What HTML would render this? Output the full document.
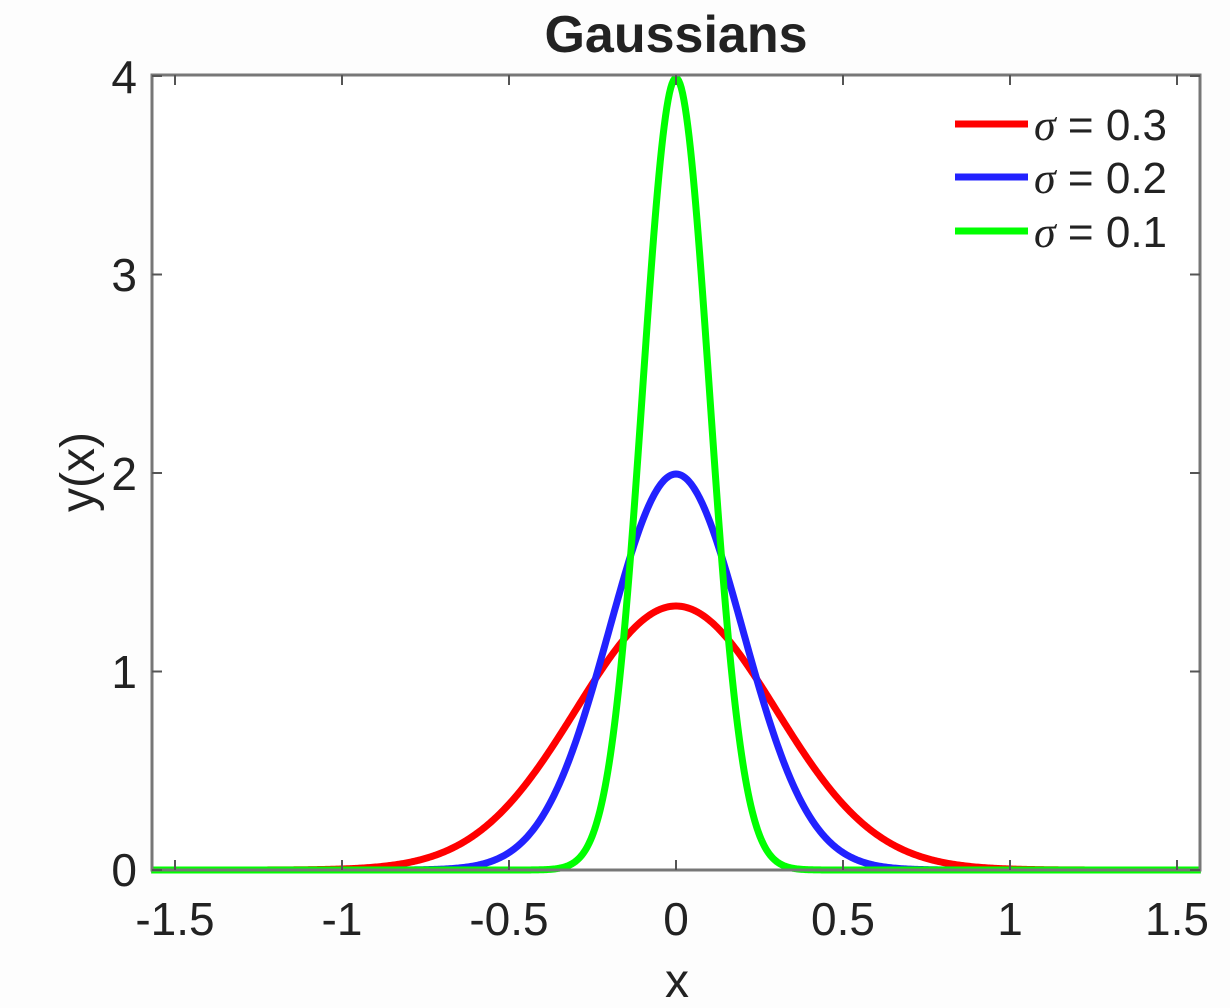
<!DOCTYPE html>
<html><head><meta charset="utf-8"><style>
html,body{margin:0;padding:0;background:#fdfdfd;}
svg{display:block;}
text{font-family:"Liberation Sans",sans-serif;fill:#222;}
</style></head><body>
<svg id="s" width="1230" height="1008" viewBox="0 0 1230 1008" xmlns="http://www.w3.org/2000/svg">
<rect x="0" y="0" width="1230" height="1008" fill="#fdfdfd"/>
<rect x="152" y="75" width="1048" height="795" fill="#fff"/>
<g id="curves" fill="none" stroke-width="7" stroke-linejoin="round"></g>
<rect x="152" y="75" width="1048" height="795" fill="none" stroke="#777" stroke-width="3"/>
<g id="ticks" stroke="#555" stroke-width="2"></g>
<text x="676" y="52" font-size="52" font-weight="bold" text-anchor="middle" fill="#000">Gaussians</text>
<g font-size="46" text-anchor="end">
<text x="137" y="886">0</text><text x="137" y="688">1</text><text x="137" y="490">2</text><text x="137" y="291">3</text><text x="137" y="93">4</text>
</g>
<g font-size="46" text-anchor="middle">
<text x="175" y="935">-1.5</text><text x="342" y="935">-1</text><text x="509" y="935">-0.5</text><text x="676" y="935">0</text><text x="843" y="935">0.5</text><text x="1010" y="935">1</text><text x="1177" y="935">1.5</text>
</g>
<text x="677" y="997" font-size="48" text-anchor="middle">x</text>
<text transform="translate(94,472) rotate(-90)" font-size="48" text-anchor="middle">y(x)</text>
<g stroke-width="7">
<line x1="955" y1="124" x2="1028" y2="124" stroke="#f00"/>
<line x1="955" y1="177" x2="1028" y2="177" stroke="#22f"/>
<line x1="955" y1="231" x2="1028" y2="231" stroke="#0f0"/>
</g>
<g font-size="44">
<text x="1034" y="140"><tspan font-family="Liberation Serif" font-style="italic">σ</tspan> = 0.3</text>
<text x="1034" y="193"><tspan font-family="Liberation Serif" font-style="italic">σ</tspan> = 0.2</text>
<text x="1034" y="247"><tspan font-family="Liberation Serif" font-style="italic">σ</tspan> = 0.1</text>
</g>
</svg>
<script>
var NS="http://www.w3.org/2000/svg";
function X(x){return 676+x*334;}function Y(y){return 870-y*198.5;}
var g=document.getElementById('curves');
[[0.3,'#f00'],[0.2,'#22f'],[0.1,'#0f0']].forEach(function(c){
 var s=c[0],d='';
 for(var i=0;i<=800;i++){var x=-1.5708+3.1416*i/800;var y=Math.exp(-x*x/(2*s*s))/(s*Math.sqrt(2*Math.PI));
 d+=(i?'L':'M')+X(x).toFixed(2)+' '+Y(y).toFixed(2);}
 var p=document.createElementNS(NS,'path');p.setAttribute('d',d);p.setAttribute('stroke',c[1]);g.appendChild(p);
});
var t=document.getElementById('ticks'),h='';
[-1.5,-1,-0.5,0,0.5,1,1.5].forEach(function(v){var x=X(v);h+='<line x1="'+x+'" y1="870" x2="'+x+'" y2="860"/><line x1="'+x+'" y1="75" x2="'+x+'" y2="85"/>';});
[0,1,2,3,4].forEach(function(v){var y=Y(v);h+='<line x1="152" y1="'+y+'" x2="162" y2="'+y+'"/><line x1="1200" y1="'+y+'" x2="1190" y2="'+y+'"/>';});
t.innerHTML=h;
</script>
</body></html>
